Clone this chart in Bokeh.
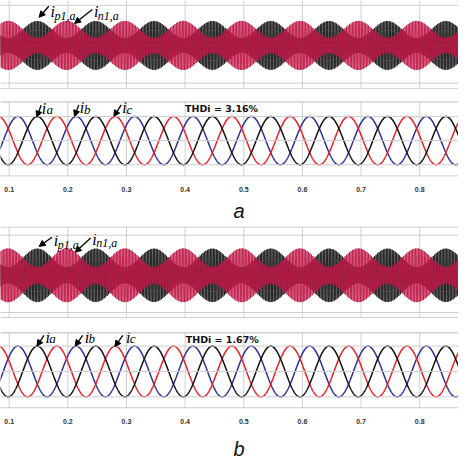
import numpy as np
from bokeh.plotting import figure
from bokeh.layouts import column
from bokeh.models import Range1d, FixedTicker, Arrow, NormalHead, Span
from bokeh.core.properties import value
from bokeh.embed import file_html
from bokeh.resources import INLINE

# ---------------- data ----------------
tick_values = [0.1, 0.2, 0.3, 0.4, 0.5, 0.6, 0.7, 0.8]
tick_labels = ["0.1", "0.2", "0.3", "0.4", "0.5", "0.6", "0.7", "0.8"]

fund_period = 0.0995                      # s, one cycle of the phase currents
phase_subs = ["a", "b", "c"]
phase_peak_times = [0.148, 0.1148, 0.1812]  # first visible peak of ia, ib, ic
phase_amplitudes = [1.0, 1.0, 1.0]

arm_subs = ["p1,a", "n1,a"]
arm_peak_times = [0.148, 0.1978]           # centre of the envelope lobes
arm_env_max = [1.0, 0.96]
arm_env_min = [0.30, 0.30]
carrier_freq = 400.0                      # Hz, switching ripple in the arm currents

thd_texts = ["THDi = 3.16%", "THDi = 1.67%"]
captions = ["a", "b"]

# ---------------- styling ----------------
W = 458
XR = (0.0852, 0.8661)
GRID = "#cfcfcf"
FRAME = "#bdbdbd"
ARM_COLORS = ["#262626", "#bf1846"]
PHASE_COLORS = ["#111111", "#2e3192", "#e3222b"]
LABEL_FONT = value("Liberation Serif")

t_arm = np.arange(0.08, 0.872, 1.0 / (carrier_freq * 10))
t_ph = np.linspace(0.08, 0.872, 1800)


def base_fig(height, yr, with_axis=False, bottom=0):
    p = figure(width=W, height=height, x_range=Range1d(*XR), y_range=Range1d(*yr),
               output_backend="svg", toolbar_location=None,
               x_axis_location="below" if with_axis else None, y_axis_location=None,
               min_border_left=0, min_border_right=0, min_border_top=0,
               min_border_bottom=bottom)
    p.outline_line_color = None
    p.xgrid.visible = False
    p.ygrid.visible = False
    p.background_fill_color = "white"
    p.border_fill_color = "white"
    if with_axis:
        ax = p.xaxis[0]
        ax.ticker = FixedTicker(ticks=tick_values)
        ax.major_label_overrides = {v: l for v, l in zip(tick_values, tick_labels)}
        ax.axis_line_color = None
        ax.major_tick_line_color = None
        ax.minor_tick_line_color = None
        ax.major_label_standoff = 4
        ax.major_label_text_font = "Liberation Sans"
        ax.major_label_text_font_style = "bold"
        ax.major_label_text_font_size = "7px"
        ax.major_label_text_color = "#333333"
    return p


def add_frame(p, lo, hi, hlines, frame_lines):
    n = len(tick_values)
    p.segment(x0=tick_values, y0=[lo] * n, x1=tick_values, y1=[hi] * n,
              line_color=GRID, line_width=1)
    for h in hlines:
        p.add_layout(Span(location=h, dimension="width", line_color=GRID, line_width=1))
    for h in frame_lines:
        p.add_layout(Span(location=h, dimension="width", line_color=FRAME, line_width=1))


def draw_arms(p):
    for k in range(2):
        theta = 2 * np.pi * (t_arm - arm_peak_times[k]) / fund_period
        env = arm_env_min[k] + (arm_env_max[k] - arm_env_min[k]) * (1 + np.cos(theta)) / 2
        carrier = np.sin(2 * np.pi * carrier_freq * t_arm + k * 0.9)
        p.line(t_arm, env * carrier, line_color=ARM_COLORS[k], line_width=1,
               line_alpha=1.0 if k == 0 else 0.88)


def draw_phases(p):
    for k in (1, 2, 0):
        y = phase_amplitudes[k] * np.cos(2 * np.pi * (t_ph - phase_peak_times[k]) / fund_period)
        p.line(t_ph, y, line_color=PHASE_COLORS[k], line_width=1.5)


def add_labels(p, items, main_size, sub_size):
    # items: (sub, x_i, y_i, x_sub, y_sub, x_tail, y_tail, x_tip, y_tip)
    for sub, xi, yi, xs, ys, xt, yt, xh, yh in items:
        p.add_layout(Arrow(end=NormalHead(size=6, fill_color="black", line_color="black"),
                           x_start=xt, y_start=yt, x_end=xh, y_end=yh,
                           line_color="black", line_width=1.3))
        p.text(x=[xi], y=[yi], text=["i"], text_font=LABEL_FONT, text_font_style="italic",
               text_font_size=main_size, text_baseline="alphabetic", text_align="left",
               text_color="black")
        p.text(x=[xs], y=[ys], text=[sub], text_font=LABEL_FONT, text_font_style="italic",
               text_font_size=sub_size, text_baseline="alphabetic", text_align="left",
               text_color="black")


def add_thd(p, x, y, txt):
    p.text(x=[x], y=[y], text=[txt], text_font=value("DejaVu Sans"), text_font_style="bold",
           text_font_size="9.5px", text_baseline="middle", text_align="left",
           text_color="#111111")


def caption_fig(height, y, txt):
    p = figure(width=W, height=height, x_range=Range1d(0, W), y_range=Range1d(0, height),
               output_backend="svg", toolbar_location=None,
               x_axis_location=None, y_axis_location=None, min_border=0)
    p.outline_line_color = None
    p.xgrid.visible = False
    p.ygrid.visible = False
    p.text(x=[238.6], y=[y], text=[txt], text_font=value("Liberation Sans"),
           text_font_style="italic", text_font_size="20px", text_align="center",
           text_baseline="alphabetic", text_color="#111111")
    return p


# ---- panel 1: arm currents (case a)
f1 = base_fig(89, (-1.721, 1.755))
add_frame(f1, -1.698, 1.755, [1.566, -1.472], [-1.698])
draw_arms(f1)
add_labels(f1, [
    (arm_subs[0], 0.17035, 1.313, 0.17743, 1.162, 0.16755, 1.53, 0.15107, 1.10),
    (arm_subs[1], 0.24448, 1.313, 0.25107, 1.162, 0.24168, 1.40, 0.21153, 0.86),
], "16px", "12px")

# ---- panel 2: phase currents (case a)
f2 = base_fig(105, (-1.488, 2.116), with_axis=True, bottom=18)
add_frame(f2, -1.47, 1.6, [-1.0, 0.0, 1.0], [1.6, -1.47])
draw_phases(f2)
add_labels(f2, [
    (phase_subs[0], 0.15552, 1.34, 0.16343, 1.28, 0.15437, 1.46, 0.14728, 0.97),
    (phase_subs[1], 0.22026, 1.36, 0.22768, 1.30, 0.21862, 1.48, 0.21153, 1.0),
    (phase_subs[2], 0.29275, 1.36, 0.30016, 1.30, 0.29110, 1.48, 0.27842, 1.0),
], "16px", "13px")
add_thd(f2, 0.3998, 1.32, thd_texts[0])

cap_a = caption_fig(32, 15.5, captions[0])

# ---- panel 3: arm currents (case b)
f3 = base_fig(92, (-1.541, 1.741))
add_frame(f3, -1.517, 1.724, [1.431, -1.328], [1.724, -1.517])
draw_arms(f3)
add_labels(f3, [
    (arm_subs[0], 0.17578, 1.234, 0.18287, 1.097, 0.17298, 1.36, 0.15107, 1.03),
    (arm_subs[1], 0.24168, 1.293, 0.24827, 1.155, 0.23888, 1.33, 0.21252, 0.82),
], "16px", "12px")

# ---- panel 4: phase currents (case b)
f4 = base_fig(108, (-1.461, 2.089), with_axis=True, bottom=14)
add_frame(f4, -1.439, 1.525, [-1.0, 0.0, 1.0], [1.525, -1.439])
draw_phases(f4)
add_labels(f4, [
    (phase_subs[0], 0.16211, 1.346, 0.16837, 1.29, 0.15931, 1.42, 0.14728, 1.0),
    (phase_subs[1], 0.22900, 1.346, 0.23509, 1.29, 0.22520, 1.42, 0.21252, 1.0),
    (phase_subs[2], 0.29934, 1.346, 0.30560, 1.29, 0.29390, 1.42, 0.28007, 0.98),
], "16px", "13px")
add_thd(f4, 0.401, 1.275, thd_texts[1])

cap_b = caption_fig(32, 10.0, captions[1])

layout = column(f1, f2, cap_a, f3, f4, cap_b, spacing=0)
open("out.html", "w").write(file_html(layout, INLINE))
